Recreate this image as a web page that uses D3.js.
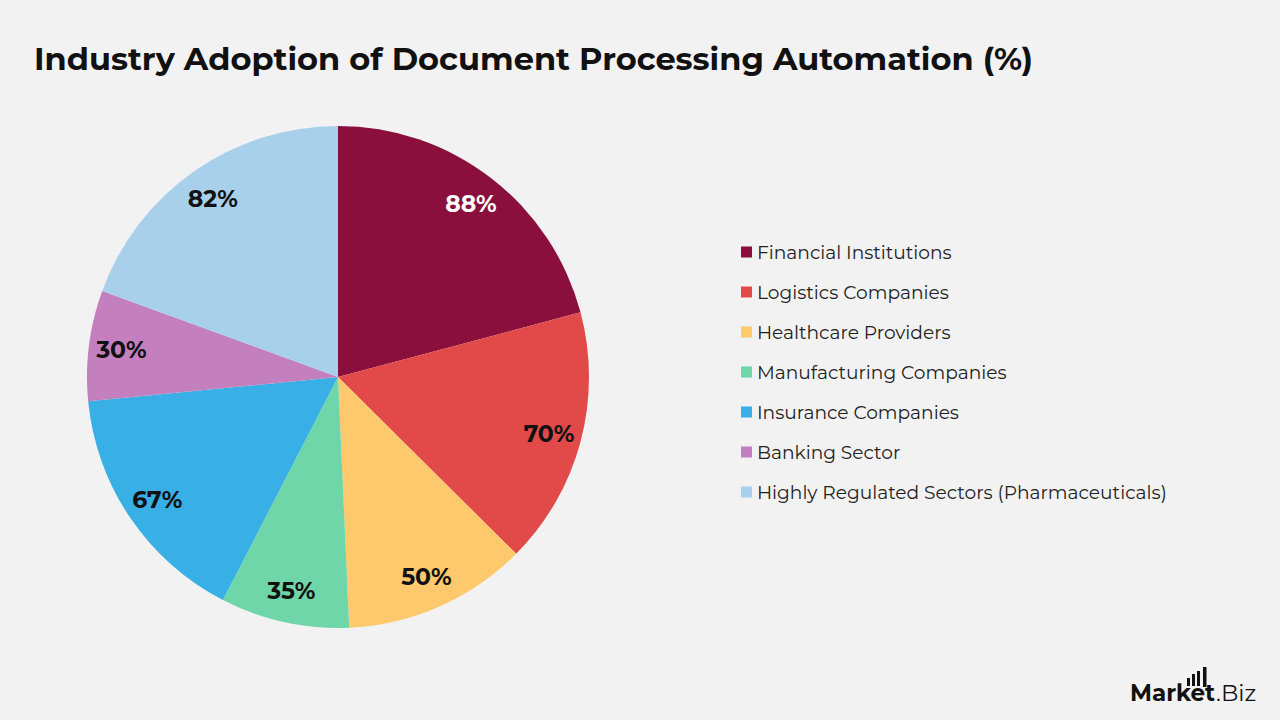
<!DOCTYPE html>
<html><head><meta charset="utf-8">
<script src="https://cdn.jsdelivr.net/npm/d3@7/dist/d3.min.js"></script>
<style>
html,body{margin:0;padding:0;background:#f2f2f2;}
svg{display:block;}
</style></head>
<body>
<svg id="chart" width="1280" height="720"></svg>
<script>
const categories = ["Financial Institutions","Logistics Companies","Healthcare Providers","Manufacturing Companies","Insurance Companies","Banking Sector","Highly Regulated Sectors (Pharmaceuticals)"];
const values = [88,70,50,35,67,30,82];
const colors = ["#8a0f3c","#e24a4a","#fdc96c","#6fd6aa","#38afe5","#c47fbf","#a8d0eb"];
const labelColors = ["#ffffff","#111111","#111111","#111111","#111111","#111111","#111111"];
const title = "Industry Adoption of Document Processing Automation (%)";

const svg = d3.select("#chart");
const font = "Montserrat, Lato, 'Open Sans', sans-serif";
svg.append("rect").attr("width",1280).attr("height",720).attr("fill","#f2f2f2");

svg.append("text").attr("x",34).attr("y",70).text(title)
  .attr("font-family",font).attr("font-weight",700).attr("font-size",31)
  .attr("fill","#111").attr("textLength",999).attr("lengthAdjust","spacingAndGlyphs");

const cx=338, cy=377, r=251;
const data = categories.map((c,i)=>({c, v:values[i], i}));
const pie = d3.pie().value(d=>d.v).sort(null);
const arcs = pie(data);
const arc = d3.arc().innerRadius(0).outerRadius(r);
const labelArc = d3.arc().innerRadius(r*0.87).outerRadius(r*0.87);
const g = svg.append("g").attr("transform",`translate(${cx},${cy})`);
g.selectAll("path").data(arcs).join("path").attr("d",arc).attr("fill",d=>colors[d.data.i]);
g.selectAll("text").data(arcs).join("text")
  .attr("transform",d=>`translate(${labelArc.centroid(d)})`)
  .attr("text-anchor","middle").attr("dominant-baseline","central")
  .attr("font-family",font).attr("font-weight",700).attr("font-size",23.5)
  .attr("fill",d=>labelColors[d.data.i]).text(d=>d.data.v+"%");

const leg = svg.append("g");
const rows = leg.selectAll("g").data(data).join("g")
  .attr("transform",(d,i)=>`translate(741,${252+i*40})`);
rows.append("rect").attr("x",0).attr("y",-5.5).attr("width",11).attr("height",11).attr("fill",d=>colors[d.i]);
rows.append("text").attr("x",16).attr("y",0).attr("dominant-baseline","central")
  .attr("font-family",font).attr("font-size",18.6).attr("fill","#222").text(d=>d.c);

// logo
const logo = svg.append("g");
logo.append("text").attr("x",1130).attr("y",701).attr("font-family",font).attr("font-weight",700)
  .attr("font-size",23).attr("fill","#111").text("Market");
logo.append("text").attr("x",1216).attr("y",701).attr("font-family",font)
  .attr("font-size",23).attr("fill","#111").text(".Biz");
[[1187,678,3,8],[1192,674,3,12],[1197,671,3,15],[1203,667,3.5,20]].forEach(b=>{
  logo.append("rect").attr("x",b[0]).attr("y",b[1]).attr("width",b[2]).attr("height",b[3]).attr("fill","#111");
});
</script>
</body></html>
